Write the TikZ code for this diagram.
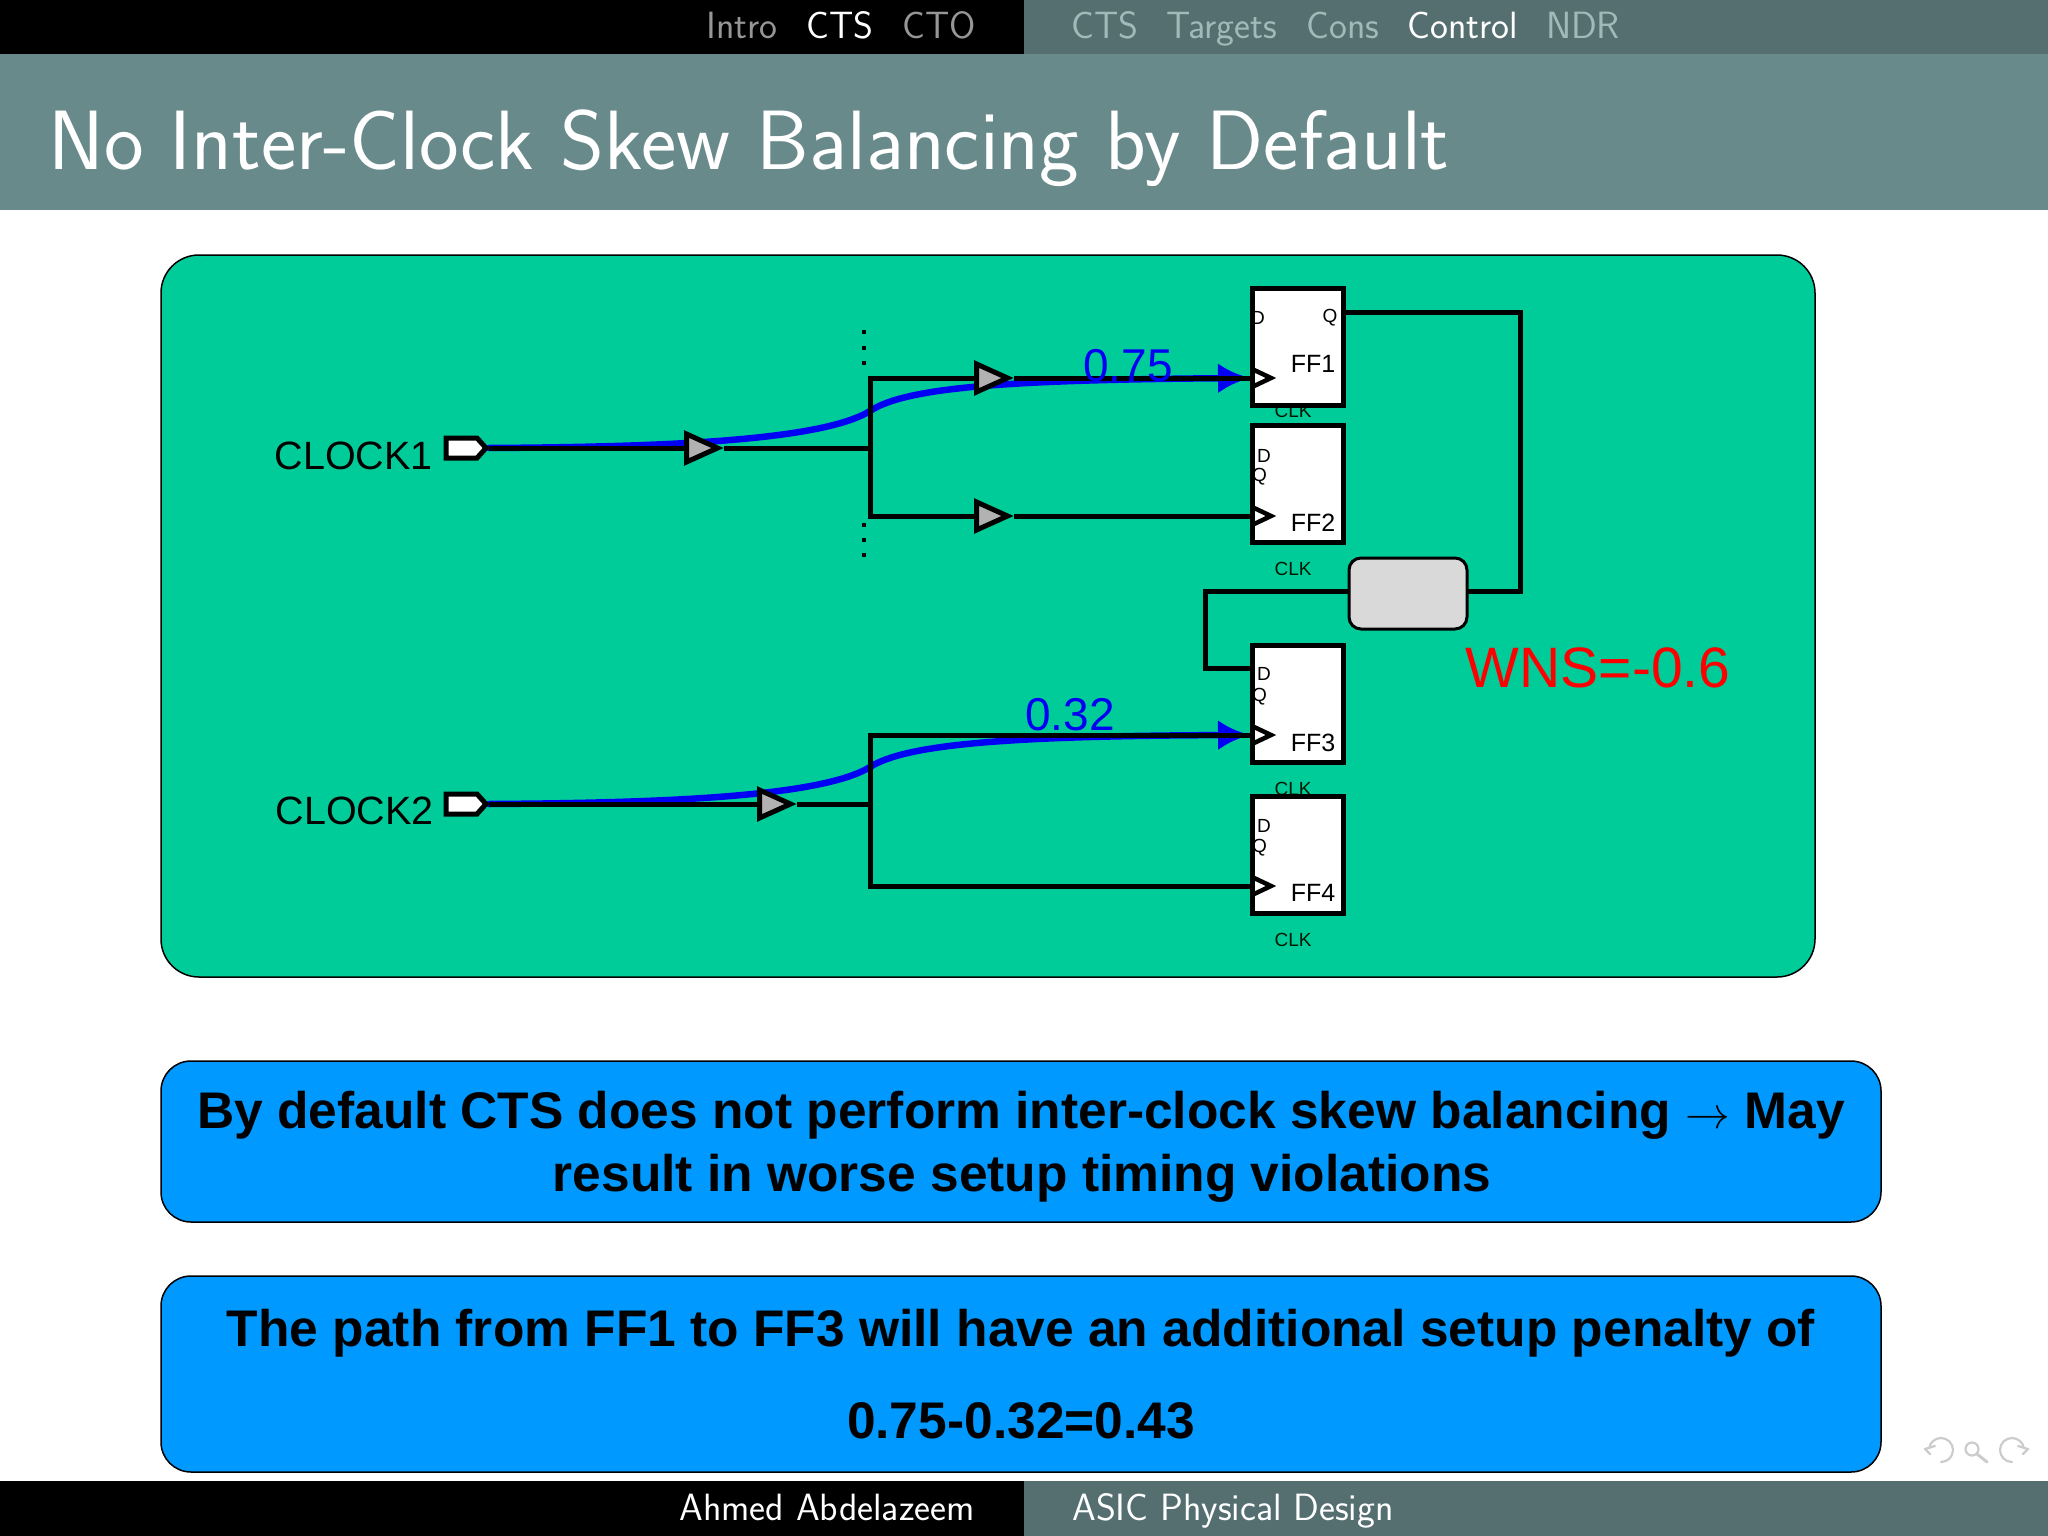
\documentclass[tikz,border=0pt]{standalone}
\usepackage{fontspec}
\setmainfont{Liberation Sans}
\newfontfamily\lmsans{Latin Modern Sans}
\usetikzlibrary{arrows.meta,shapes.geometric}
\definecolor{panelgreen}{RGB}{0,204,153}
\definecolor{boxblue}{RGB}{0,153,255}
\definecolor{hdark}{RGB}{85,111,113}
\definecolor{htitle}{RGB}{104,138,138}
\definecolor{wireblue}{RGB}{0,0,245}
\definecolor{navdim}{RGB}{150,150,150}
\definecolor{navdimb}{RGB}{160,185,185}
\newcommand{\fsz}[1]{\fontsize{#1}{#1}\selectfont}
\tikzset{
  wire/.style={draw=black,line width=5pt},
  bluepath/.style={draw=wireblue,line width=6.5pt,line cap=round},
  bluearrow/.style={draw=wireblue,line width=6.5pt,-{Latex[length=32pt,width=30pt]}},
  ffbox/.style={draw=black,fill=white,line width=4.5pt,minimum width=91pt,minimum height=117pt,inner sep=0pt,anchor=north west},
  bufnode/.style={isosceles triangle,isosceles triangle stretches,draw=black,fill=black!30,line width=5pt,minimum width=28pt,minimum height=31pt,inner sep=0pt,shape border rotate=0,anchor=lower side},
  portshape/.style={draw=black,fill=white,line width=5pt,line join=miter},
  ckglyph/.style={draw=black,line width=4.5pt,line join=miter},
  ptext/.style={font=\fsz{19},inner sep=0pt,text=black},
  fftext/.style={font=\fsz{25},inner sep=0pt,text=black},
  cktext/.style={font=\fsz{19},inner sep=0pt,text=black!90!green},
  clocktext/.style={font=\fsz{39.5},inner sep=0pt},
  infobox/.style={draw=black,fill=boxblue,line width=1.5pt,rounded corners=30pt,inner sep=0pt},
  infotext/.style={font=\bfseries\fsz{51.5},inner sep=0pt,text=black},
  navtext/.style={font=\lmsans\fsz{38},inner sep=0pt,anchor=base},
  navicon/.style={draw=black!20,line width=2.2pt,line cap=round},
}
\begin{document}
\begin{tikzpicture}[x=1pt,y=-1pt]
\useasboundingbox (0,0) rectangle (2048,1536);
\fill[white] (0,0) rectangle (2048,1536);
% header
\fill[black] (0,0) rectangle (1024,54);
\fill[hdark] (1024,0) rectangle (2048,54);
\fill[htitle] (0,54) rectangle (2048,210);
\node[navtext,text=navdim] (n1) at (742,39) {Intro};
\node[navtext,text=white] (n2) at (840,39) {CTS};
\node[navtext,text=navdim] (n3) at (939,39) {CTO};
\node[navtext,text=navdimb] (n4) at (1105,39) {CTS};
\node[navtext,text=navdimb] (n5) at (1222,39) {Targets};
\node[navtext,text=navdimb] (n6) at (1343,39) {Cons};
\node[navtext,text=white] (n7) at (1463,39) {Control};
\node[navtext,text=navdimb] (n8) at (1583,39) {NDR};
\node[font=\lmsans\fsz{84.2},text=white,inner sep=0pt,anchor=base west] (title) at (48,169) {No Inter-Clock Skew Balancing by Default};
% footer
\fill[black] (0,1481) rectangle (1024,1536);
\fill[hdark] (1024,1481) rectangle (2048,1536);
\node[navtext,text=white] (f1) at (827,1520) {Ahmed Abdelazeem};
\node[navtext,text=white] (f2) at (1233,1520) {ASIC Physical Design};
% panel
\draw[black,fill=panelgreen,line width=1.5pt,rounded corners=38pt] (161,255) rectangle (1815,977);
% named points
\coordinate (c1a) at (1250,378); \coordinate (c2a) at (1250,516);
\coordinate (c3a) at (1250,735); \coordinate (c4a) at (1250,886);
\coordinate (t1) at (870,448); \coordinate (t1u) at (870,378); \coordinate (t1d) at (870,516);
\coordinate (t2) at (870,804); \coordinate (t2u) at (870,735); \coordinate (t2d) at (870,886);
\coordinate (p1) at (489,448); \coordinate (p2) at (489,804);
\coordinate (m1) at (870,411); \coordinate (m2) at (870,767);
% blue critical paths
\draw[bluepath] (p1) .. controls (650,447) and (820,442) .. (m1);
\draw[bluearrow] (m1) .. controls (905,388) and (1000,380) .. (c1a);
\draw[bluepath] (p2) .. controls (650,803) and (820,798) .. (m2);
\draw[bluearrow] (m2) .. controls (905,745) and (1000,736) .. (c3a);
% buffers
\node[bufnode] (b1) at (684,448) {};
\node[bufnode] (b2) at (757,804) {};
\node[bufnode] (b3) at (974,378) {};
\node[bufnode] (b4) at (974,516) {};
% wires
\draw[wire] (p1) -- (b1.lower side);
\draw[wire] (b1.apex) -- (t1);
\draw[wire] (p2) -- (b2.lower side);
\draw[wire] (b2.apex) -- (t2);
\draw[wire,line join=miter] (b3.lower side) -- (t1u) -- (t1d) -- (b4.lower side);
\draw[wire,line join=miter] (c3a) -- (t2u) -- (t2d) -- (c4a);
\draw[wire] (b3.apex) -- (c1a);
\draw[wire] (b4.apex) -- (c2a);
% ports
\draw[portshape] (446,438) -- (477,438) -- (486,448) -- (477,458) -- (446,458) -- cycle;
\draw[portshape] (446,794) -- (477,794) -- (486,804) -- (477,814) -- (446,814) -- cycle;
\node[clocktext,anchor=east] (clk1) at (433,456) {CLOCK1};
\node[clocktext,anchor=east] (clk2) at (434,811) {CLOCK2};
% dots
\foreach \y in {332,348,363,525,540,555} \fill[black] (862,\y-2) rectangle (866,\y+2);
% CLK labels under boxes
\node[cktext] (k1) at (1293,411) {CLK};
\node[cktext] (k2) at (1293,569) {CLK};
\node[cktext] (k3) at (1293,789) {CLK};
\node[cktext] (k4) at (1293,940) {CLK};
% flip-flops
\node[ffbox] (ff1) at (1250,286) {};
\node[ffbox] (ff2) at (1250,423) {};
\node[ffbox] (ff3) at (1250,643) {};
\node[ffbox] (ff4) at (1250,794) {};
\foreach \y in {378,516,735,886} \draw[ckglyph] (1252,\y-9) -- (1271,\y) -- (1252,\y+9);
\node[ptext] (d1) at (1258,318) {D};
\node[ptext] (q1) at (1330,318) {Q};
\node[fftext] (l1) at (1313,364) {FF1};
\node[ptext] (d2) at (1264,456) {D};
\node[ptext] (q2) at (1259.5,477) {Q};
\node[fftext] (l2) at (1313,523) {FF2};
\node[ptext] (d3) at (1264,674) {D};
\node[ptext] (q3) at (1259.5,697) {Q};
\node[fftext] (l3) at (1313,743) {FF3};
\node[ptext] (d4) at (1264,826) {D};
\node[ptext] (q4) at (1259.5,848) {Q};
\node[fftext] (l4) at (1313,893) {FF4};
% delay
\node[draw=black,fill=black!15,line width=3pt,rounded corners=12pt,minimum width=118pt,minimum height=71pt,inner sep=0pt] (logic) at (1408,593.5) {};
\coordinate (qo) at (1345,312); \coordinate (qr) at (1520,312); \coordinate (lr) at (1520,591);
\coordinate (lo) at (1468,591); \coordinate (li) at (1348,591); \coordinate (dl) at (1205,591);
\coordinate (dd) at (1205,668); \coordinate (di) at (1250,668);
\draw[wire,line join=miter] (qo) -- (qr) -- (lr) -- (lo);
\draw[wire,line join=miter] (li) -- (dl) -- (dd) -- (di);
% value labels
\node[font=\fsz{46},text=wireblue,inner sep=0pt] (v1) at (1128,366) {0.75};
\node[font=\fsz{46},text=wireblue,inner sep=0pt] (v2) at (1070,715) {0.32};
\node[font=\fsz{57},text=red,inner sep=0pt] (wns) at (1598,668) {WNS=-0.6};
% info boxes
\draw[infobox] (161,1061) rectangle (1881,1222);
\draw[infobox] (161,1276) rectangle (1881,1472);
\node[infotext] (i1) at (1021,1115) {By default CTS does not perform inter-clock skew balancing \scalebox{1.8}{$\rightarrow$} May};
\node[infotext] (i2) at (1022,1178) {result in worse setup timing violations};
\node[infotext] (i3) at (1021,1333) {The path from FF1 to FF3 will have an additional setup penalty of};
\node[infotext] (i4) at (1021,1421) {0.75-0.32=0.43};
% nav icons
\draw[navicon] (1941,1462) arc (90:-170:12);
\draw[navicon] (1925,1449) -- (1930,1454) (1925,1449) -- (1935,1446);
\draw[navicon] (1972,1449) circle (6.5);
\draw[navicon,line width=3pt] (1977,1454) -- (1987,1462);
\draw[navicon] (2012,1462) arc (90:350:12);
\draw[navicon] (2028,1449) -- (2023,1454) (2028,1449) -- (2018,1446);
\end{tikzpicture}
\end{document}
